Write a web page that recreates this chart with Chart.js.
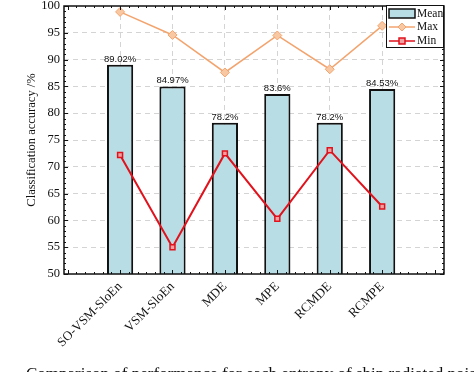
<!DOCTYPE html>
<html>
<head>
<meta charset="utf-8">
<script src="https://cdn.jsdelivr.net/npm/chart.js@4/dist/chart.umd.min.js"></script>
<style>
  html, body { margin: 0; padding: 0; background: #fff; }
  #wrap { position: relative; width: 474px; height: 372px; overflow: hidden; }
  #caption { position: absolute; left: 26px; top: 365px; font: 17px "Liberation Serif", serif; line-height: 17px; white-space: nowrap; color: #111; }
</style>
</head>
<body>
<div id="wrap">
  <canvas id="chart" width="474" height="372"></canvas>
  <div id="caption">Comparison of performance for each entropy of ship radiated noise</div>
</div>
<script>
// data
const categories = ["SO-VSM-SloEn", "VSM-SloEn", "MDE", "MPE", "RCMDE", "RCMPE"];
const meanVals = [89.02, 84.97, 78.2, 83.6, 78.2, 84.53];
const meanLabels = ["89.02%", "84.97%", "78.2%", "83.6%", "78.2%", "84.53%"];
const maxVals = [98.9, 94.6, 87.6, 94.5, 88.2, 96.3];
const minVals = [72.2, 55.0, 72.5, 60.3, 73.1, 62.6];
const yTicks = [50, 55, 60, 65, 70, 75, 80, 85, 90, 95, 100];

const serif = "'Liberation Serif', 'Times New Roman', serif";
const toPts = (arr) => arr.map((v, i) => ({ x: i + 1, y: v }));

const MAX_C = "#f3a46e", MIN_C = "#e1121c", BAR_C = "#b9dde5";

const framePlugin = {
  id: "frame",
  afterDatasetsDraw(chart) {
    const { ctx, chartArea: a, scales: { x, y } } = chart;
    ctx.save();

    // value labels on top of bars
    ctx.font = "9.5px 'Liberation Sans', Arial, sans-serif";
    ctx.fillStyle = "#111";
    ctx.textAlign = "center";
    ctx.textBaseline = "bottom";
    chart.getDatasetMeta(0).data.forEach((bar, i) => ctx.fillText(meanLabels[i], bar.x, bar.y - 1));

    // box
    ctx.strokeStyle = "#111";
    ctx.lineWidth = 1.5;
    ctx.strokeRect(a.left, a.top, a.width, a.height);

    // inward ticks
    ctx.lineWidth = 1;
    ctx.beginPath();
    for (let v = y.min; v <= y.max; v++) {
      const py = Math.round(y.getPixelForValue(v)) + 0.5;
      const len = v % 5 === 0 ? 4 : 2;
      ctx.moveTo(a.left, py); ctx.lineTo(a.left + len, py);
      ctx.moveTo(a.right, py); ctx.lineTo(a.right - len, py);
    }
    for (let k = 0; k <= 44; k++) {
      const v = k / 6;
      if (v < x.min || v > x.max) continue;
      const px = Math.round(x.getPixelForValue(v)) + 0.5;
      const len = k % 6 === 0 ? 4 : 2;
      ctx.moveTo(px, a.bottom); ctx.lineTo(px, a.bottom - len);
      ctx.moveTo(px, a.top); ctx.lineTo(px, a.top + len);
    }
    ctx.stroke();

    // legend
    const lx = a.right - 58, ly = a.top - 1, lw = 58, lh = 43;
    ctx.fillStyle = "#fff";
    ctx.fillRect(lx, ly, lw, lh);
    ctx.lineWidth = 1;
    ctx.strokeRect(lx + 0.5, ly + 0.5, lw - 1, lh - 1);

    ctx.fillStyle = BAR_C;
    ctx.fillRect(lx + 3, ly + 4, 26, 9);
    ctx.lineWidth = 1.5;
    ctx.strokeStyle = "#111";
    ctx.strokeRect(lx + 3, ly + 4, 26, 9);

    ctx.strokeStyle = MAX_C;
    ctx.beginPath(); ctx.moveTo(lx + 3, ly + 22); ctx.lineTo(lx + 29, ly + 22); ctx.stroke();
    ctx.fillStyle = "#f8c8a2";
    ctx.beginPath();
    ctx.moveTo(lx + 16, ly + 18); ctx.lineTo(lx + 20, ly + 22); ctx.lineTo(lx + 16, ly + 26); ctx.lineTo(lx + 12, ly + 22); ctx.closePath();
    ctx.fill(); ctx.lineWidth = 1; ctx.stroke();

    ctx.strokeStyle = MIN_C; ctx.lineWidth = 1.5;
    ctx.beginPath(); ctx.moveTo(lx + 3, ly + 36); ctx.lineTo(lx + 29, ly + 36); ctx.stroke();
    ctx.fillStyle = "#f0a0a0";
    ctx.fillRect(lx + 13, ly + 33, 6, 6); ctx.strokeRect(lx + 13, ly + 33, 6, 6);

    ctx.fillStyle = "#111";
    ctx.font = "11.5px " + serif;
    ctx.textAlign = "left";
    ctx.textBaseline = "middle";
    ctx.fillText("Mean", lx + 31, ly + 9);
    ctx.fillText("Max", lx + 31, ly + 22);
    ctx.fillText("Min", lx + 31, ly + 36);
    ctx.restore();
  }
};

const gridColor = (lo, hi) => (c) => (c.tick && (c.tick.value <= lo || c.tick.value >= hi) ? "rgba(0,0,0,0)" : "#d4d4d4");

new Chart(document.getElementById("chart").getContext("2d"), {
  data: {
    datasets: [
      { type: "bar", label: "Mean", data: toPts(meanVals), backgroundColor: BAR_C, borderColor: "#111", borderWidth: 2,
        borderSkipped: false, barPercentage: 0.5, categoryPercentage: 1, order: 3 },
      { type: "line", label: "Max", data: toPts(maxVals), borderColor: MAX_C, borderWidth: 1.5, pointStyle: "rectRot",
        pointRadius: 4.5, pointBackgroundColor: "#f8c8a2", pointBorderColor: MAX_C, pointBorderWidth: 1, tension: 0, fill: false, order: 2 },
      { type: "line", label: "Min", data: toPts(minVals), borderColor: MIN_C, borderWidth: 2, pointStyle: "rect",
        pointRadius: 3.5, pointBackgroundColor: "#f0a0a0", pointBorderColor: MIN_C, pointBorderWidth: 1.5, tension: 0, fill: false, order: 1 },
    ],
  },
  options: {
    responsive: false,
    animation: false,
    layout: { padding: { top: 0, right: 30, left: 0, bottom: 0 } },
    plugins: { legend: { display: false }, tooltip: { enabled: false } },
    scales: {
      x: {
        type: "linear", min: -0.07, max: 7.18, offset: false,
        afterBuildTicks: (s) => { s.ticks = categories.map((c, i) => ({ value: i + 1 })); },
        afterFit: (s) => { s.height = 98; },
        grid: { color: gridColor(-1, 99), lineWidth: 1, drawTicks: false, offset: false },
        border: { display: false, dash: [5, 4] },
        ticks: { autoSkip: false, minRotation: 45, maxRotation: 45, padding: 5, color: "#111",
          font: { family: serif, size: 13 }, callback: (v) => categories[Math.round(v) - 1] },
      },
      y: {
        min: 50, max: 100,
        afterBuildTicks: (s) => { s.ticks = yTicks.map((v) => ({ value: v })); },
        afterFit: (s) => { s.width = 64; s.paddingTop = 6; s.paddingBottom = 0; },
        grid: { color: gridColor(50, 100), lineWidth: 1, drawTicks: false },
        border: { display: false, dash: [5, 4] },
        ticks: { padding: 4, color: "#111", font: { family: serif, size: 12.5 } },
        title: { display: true, text: "Classification accuracy /%", color: "#111", padding: { top: 24 },
          font: { family: serif, size: 12.5 } },
      },
    },
  },
  plugins: [framePlugin],
});
</script>
</body>
</html>
